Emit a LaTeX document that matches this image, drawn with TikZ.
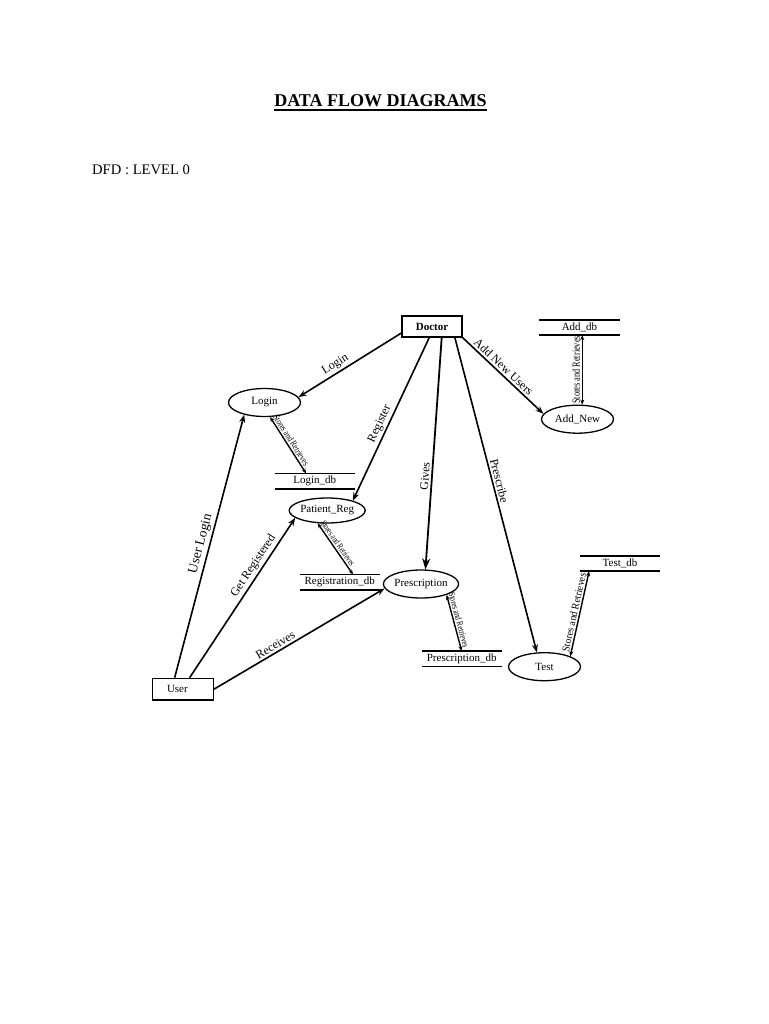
\documentclass[tikz,border=0pt]{standalone}
\usepackage{fontspec}
\setmainfont{Liberation Serif}
\usepackage{graphicx}
\usetikzlibrary{shapes.geometric,arrows.meta,calc}
\tikzset{
  proc/.style={ellipse, draw, line width=1.3pt, minimum width=72pt, minimum height=28pt, inner sep=0pt, font=\fontsize{11}{13}\selectfont},
  ent/.style={rectangle, draw, line width=1.3pt, minimum width=60pt, minimum height=21pt, inner sep=0pt, font=\fontsize{11}{13}\selectfont},
  store/.style={rectangle, minimum width=80pt, minimum height=15pt, inner sep=0pt, font=\fontsize{11}{13}\selectfont},
  storeline/.style={line width=1.5pt},
  flow/.style={line width=1.6pt, -{Stealth[length=8pt,width=6pt]}},
  bigflow/.style={line width=1.8pt, -{Stealth[length=11pt,width=8pt]}},
  srflow/.style={line width=1.4pt, {Stealth[length=5pt,width=4pt]}-{Stealth[length=5pt,width=4pt]}},
  flab/.style={sloped, above, inner sep=2pt, font=\fontsize{12}{14}\selectfont},
  srlab/.style={sloped, above, inner sep=1.5pt, font=\fontsize{#1}{#1}\selectfont},
}
\newcommand{\srtext}[1]{\scalebox{#1}[1]{Stores and Retrieves}}
\begin{document}
\begin{tikzpicture}[x=1pt,y=-1pt]
\useasboundingbox (0,0) rectangle (768,1024);
\fill[white] (0,0) rectangle (768,1024);

% title
\node[anchor=base, inner sep=0pt, font=\fontsize{18}{22}\selectfont\bfseries] (title) at (380.5,106.5) {DATA FLOW DIAGRAMS};
\draw[line width=1.3pt] ($(title.base west)+(0,3.5)$) -- ($(title.base east)+(0,3.5)$);
\node[anchor=base west, inner sep=0pt, font=\fontsize{14.6}{17}\selectfont] (level) at (92,174.5) {DFD : LEVEL 0};

% entities
\node[ent, font=\fontsize{11}{13}\selectfont\bfseries] (doctor) at (432,326.5) {Doctor};
\node[ent, minimum width=60.6pt, minimum height=21.7pt] (user) at (183,689.2) {\makebox[40pt][l]{\hspace{4pt}User}};

% processes
\node[proc] (login) at (264.5,402.5) {Login};
\node[proc, minimum width=71pt, minimum height=25pt] (preg) at (327.2,510.5) {Patient\_Reg};
\node[proc] (presc) at (421,584) {Prescription};
\node[proc] (test) at (544.5,666.7) {Test};
\node[proc] (addn) at (577.5,419.2) {Add\_New};

% data stores
\node[store] (adb) at (579.5,327.5) {Add\_db};
\node[store] (ldb) at (314.7,481.2) {Login\_db};
\node[store] (rdb) at (339.7,582.2) {Registration\_db};
\node[store] (pdb) at (461.7,658.8) {Prescription\_db};
\node[store] (tdb) at (620,563.5) {Test\_db};
\foreach \s in {adb,ldb,rdb,pdb,tdb}{
  \draw[storeline] (\s.north west) -- (\s.north east);
  \draw[storeline] (\s.south west) -- (\s.south east);
}

% flows from Doctor
\draw[flow] (doctor.192) -- node[flab, pos=0.6] {Login} (login.9);
\draw[flow] (doctor.256) -- node[flab, pos=0.55] {Register} (preg.21);
\draw[bigflow] (doctor.311) -- node[flab, pos=0.6] {Gives} (presc.73);
\draw[flow] (doctor.334) -- node[flab, pos=0.46] {Prescribe} (test.118);
\draw[flow] (doctor.south east) -- node[flab, pos=0.45] {Add New Users} (addn.171);

% flows from User
\draw[flow] (user.126) -- node[flab, pos=0.5, font=\fontsize{13.5}{15}\selectfont] {User Login} (login.211);
\draw[flow] (user.60) -- node[flab, pos=0.67] {Get Registered} (preg.193);
\draw[flow] (user.east) -- node[flab, pos=0.38] {Receives} (presc.187);

% stores and retrieves
\draw[srflow] (login.291) -- node[srlab=9.5, pos=0.46] {\srtext{0.75}} (ldb.138);
\draw[srflow] (preg.233) -- node[srlab=9, pos=0.45] {\srtext{0.72}} (rdb.30);
\draw[srflow] (presc.337) -- node[srlab=9.2, pos=0.47] {\srtext{0.75}} (pdb.north);
\draw[srflow] (test.22) -- node[srlab=10.5, pos=0.5] {\srtext{0.93}} (tdb.194);
\draw[srflow] (addn.72) -- node[srlab=11, pos=0.5] {\srtext{0.75}} (addn.72 |- adb.south);
\end{tikzpicture}
\end{document}
